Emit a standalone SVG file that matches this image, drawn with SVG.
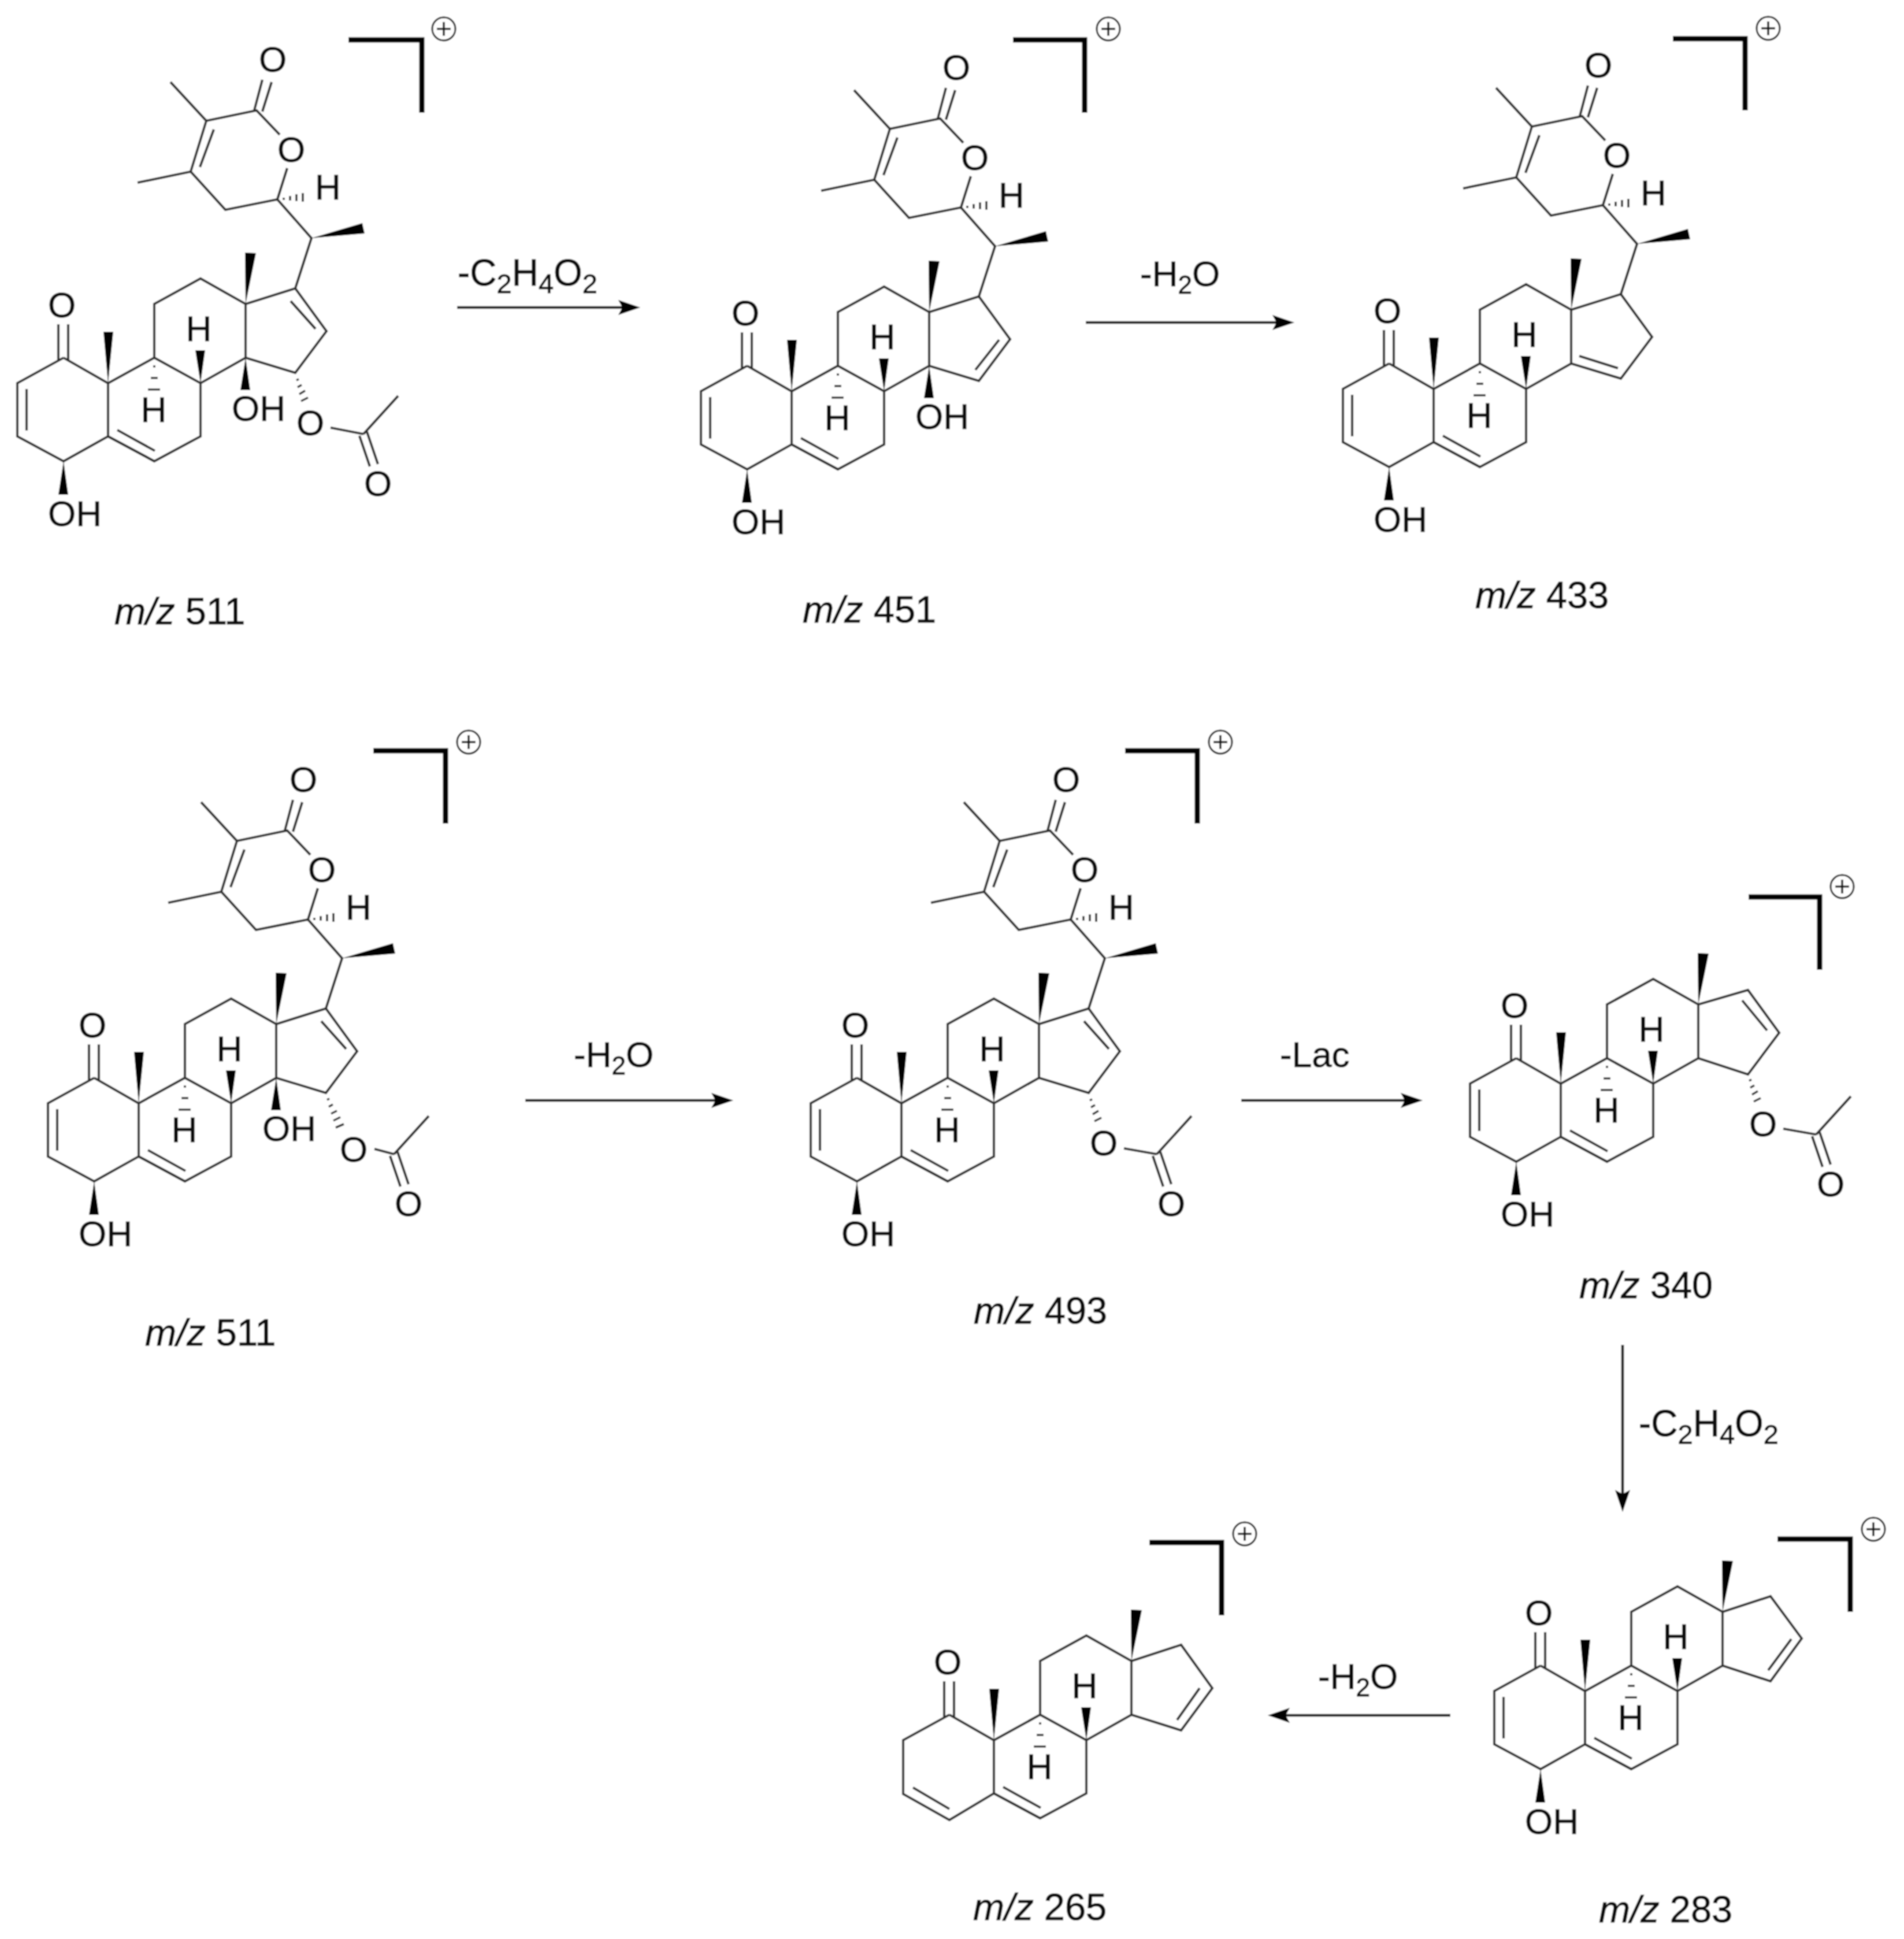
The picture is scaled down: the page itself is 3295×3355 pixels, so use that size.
<svg xmlns="http://www.w3.org/2000/svg" xmlns:xlink="http://www.w3.org/1999/xlink" width="3295" height="3355" viewBox="0 0 3295 3355">
<style>
.t{font-family:"Liberation Sans",Arial,sans-serif;font-size:62px;fill:#111;stroke:#111;stroke-width:.9}
.l{font-size:65px}
.i{font-style:italic}
.b{fill:none;stroke:#2e2e2e;stroke-width:4.2;stroke-linejoin:miter;stroke-linecap:butt}
.w{fill:#000;stroke:none}
.h{fill:none;stroke:#222;stroke-width:3.6}
.br{fill:none;stroke:#000;stroke-width:9}
.a{fill:none;stroke:#111;stroke-width:4.6}
</style>
<defs>
<filter id="soft" x="0" y="0" width="100%" height="100%" filterUnits="userSpaceOnUse"><feGaussianBlur stdDeviation="0.8"/></filter>
<marker id="ah" viewBox="0 0 38 26" refX="30" refY="13" markerWidth="38" markerHeight="26" markerUnits="userSpaceOnUse" orient="auto"><path d="M0 0L38 13L0 26L7 13Z" fill="#000"/></marker>
<g id="plus"><circle r="20" fill="none" stroke="#111" stroke-width="3"/><path d="M-12 0H12M0 -12V12" stroke="#111" stroke-width="3.6" fill="none"/></g>
<g id="core">
<path class="b" d="M110 619L187 663L267 619L347 663L347 755L267 798L187 755L187 663M267 619V526L347 482L425 526V619L347 663"/>
<path class="b" d="M203 744L268 780M187 755L267 798M101 561V624M118 561V624"/>
<path class="w" d="M187 663L179 574H196Z"/>
<path class="w" d="M425 526L424 437L443 438Z"/>
<path class="w" d="M347 663L338 606H355Z"/>
<path class="h" d="M265 634H269M261 654H273M256 674H277"/>
</g>
<g id="aring">
<path class="b" d="M110 619L30 663V755L110 798L187 755M46 673V745"/>
<path class="w" d="M110 798L101 856H118Z"/>
</g>
<path id="oh14w" class="w" d="M425 619L416 675H433Z"/>
<g id="lac">
<path class="b" d="M511 499L539 412L480 345L390 363L330 297L357 209L444 191L484 233M497 291L480 345M346 289L370 224M357 209L295 142M330 297L238 316M440 191L454 138M454 193L470 142"/>
<path class="w" d="M539 412L627 386L631 404Z"/>
<path class="h" d="M491 342V346M502 339V347M513 336V348M524 334V349"/>
</g>
<g id="ac">
<path class="b" d="M629 751L689 685M622 754L640 807M635 747L654 803"/>
</g>
<path id="dsh" class="h" d="M513 658L517 656M515 670L522 666M518 682L528 676M521 694L533 688"/>
</defs>
<g filter="url(#soft)">
<rect width="3295" height="3355" fill="#fff"/>

<g id="connectors">
<path class="a" d="M791 532H1100" marker-end="url(#ah)"/>
<path class="a" d="M1879 558H2232" marker-end="url(#ah)"/>
<path class="a" d="M909 1904H1261" marker-end="url(#ah)"/>
<path class="a" d="M2148 1904H2454" marker-end="url(#ah)"/>
<path class="a" d="M2808 2327V2608" marker-end="url(#ah)"/>
<path class="a" d="M2510 2968H2202" marker-end="url(#ah)"/>
</g>
<g id="arrow-labels">
<text class="t" x="792" y="494" style="font-size:64px">-C<tspan font-size="47" dy="13">2</tspan><tspan dy="-13">H</tspan><tspan font-size="47" dy="13">4</tspan><tspan dy="-13">O</tspan><tspan font-size="47" dy="13">2</tspan></text>
<text class="t" x="1973" y="495">-H<tspan font-size="44" dy="13">2</tspan><tspan dy="-13">O</tspan></text>
<text class="t" x="993" y="1846">-H<tspan font-size="44" dy="13">2</tspan><tspan dy="-13">O</tspan></text>
<text class="t" x="2215" y="1846">-Lac</text>
<text class="t" x="2836" y="2485" style="font-size:64px">-C<tspan font-size="47" dy="13">2</tspan><tspan dy="-13">H</tspan><tspan font-size="47" dy="13">4</tspan><tspan dy="-13">O</tspan><tspan font-size="47" dy="13">2</tspan></text>
<text class="t" x="2281" y="2922">-H<tspan font-size="44" dy="13">2</tspan><tspan dy="-13">O</tspan></text>
</g>

<g id="mol-511a">
<g>
<use href="#core"/><use href="#aring"/><use href="#oh14w"/><use href="#lac"/><use href="#ac"/><use href="#dsh"/>
<path class="b" d="M425 526L511 499L565 573L511 645L425 619M503 521L546 569M572 740L629 751"/>
<text class="t" x="107" y="549" text-anchor="middle">O</text>
<text class="t" x="83" y="910">OH</text>
<text class="t" x="344" y="590" text-anchor="middle">H</text>
<text class="t" x="266" y="730" text-anchor="middle">H</text>
<text class="t" x="401" y="728">OH</text>
<text class="t" x="472" y="124" text-anchor="middle">O</text>
<text class="t" x="504" y="280" text-anchor="middle">O</text>
<text class="t" x="545" y="345">H</text>
<text class="t" x="537" y="753" text-anchor="middle">O</text>
<text class="t" x="654" y="858" text-anchor="middle">O</text>
</g>
<path class="br" d="M603 69H730V195"/><use href="#plus" x="768" y="50"/>
<text class="t l" x="198" y="1080"><tspan class="i">m/z</tspan> 511</text>
</g>

<g id="mol-451">
<g transform="translate(1183 14)">
<use href="#core"/><use href="#aring"/><use href="#oh14w"/><use href="#lac"/>
<path class="b" d="M425 526L511 499L565 573L511 645L425 619M505 626L546 574"/>
<text class="t" x="107" y="549" text-anchor="middle">O</text>
<text class="t" x="83" y="910">OH</text>
<text class="t" x="344" y="590" text-anchor="middle">H</text>
<text class="t" x="266" y="730" text-anchor="middle">H</text>
<text class="t" x="401" y="728">OH</text>
<text class="t" x="472" y="124" text-anchor="middle">O</text>
<text class="t" x="504" y="280" text-anchor="middle">O</text>
<text class="t" x="545" y="345">H</text>
</g>
<path class="br" d="M1753 69H1877V195"/><use href="#plus" x="1918" y="50"/>
<text class="t l" x="1389" y="1077"><tspan class="i">m/z</tspan> 451</text>
</g>

<g id="mol-433">
<g transform="translate(2294 10)">
<use href="#core"/><use href="#aring"/><use href="#lac"/>
<path class="b" d="M425 526L511 499L565 573L511 645L425 619M439 606L506 627"/>
<text class="t" x="107" y="549" text-anchor="middle">O</text>
<text class="t" x="83" y="910">OH</text>
<text class="t" x="344" y="590" text-anchor="middle">H</text>
<text class="t" x="266" y="730" text-anchor="middle">H</text>
<text class="t" x="472" y="124" text-anchor="middle">O</text>
<text class="t" x="504" y="280" text-anchor="middle">O</text>
<text class="t" x="545" y="345">H</text>
</g>
<path class="br" d="M2895 67H3020V191"/><use href="#plus" x="3060" y="49"/>
<text class="t l" x="2553" y="1052"><tspan class="i">m/z</tspan> 433</text>
</g>

<g id="mol-511b">
<g transform="translate(53 1246)">
<use href="#core"/><use href="#aring"/><use href="#oh14w"/><use href="#lac"/><use href="#ac"/>
<path class="h" d="M513 657L517 655M516 669L523 665M520 681L530 676M524 693L536 687M528 705L542 699"/>
<path class="b" d="M425 526L511 499L565 573L511 645L425 619M503 521L546 569M595 742L629 751"/>
<text class="t" x="107" y="549" text-anchor="middle">O</text>
<text class="t" x="83" y="910">OH</text>
<text class="t" x="344" y="590" text-anchor="middle">H</text>
<text class="t" x="266" y="730" text-anchor="middle">H</text>
<text class="t" x="401" y="728">OH</text>
<text class="t" x="472" y="124" text-anchor="middle">O</text>
<text class="t" x="504" y="280" text-anchor="middle">O</text>
<text class="t" x="545" y="345">H</text>
<text class="t" x="559" y="764" text-anchor="middle">O</text>
<text class="t" x="654" y="858" text-anchor="middle">O</text>
</g>
<path class="br" d="M646 1299H771V1425"/><use href="#plus" x="811" y="1284"/>
<text class="t l" x="251" y="2328"><tspan class="i">m/z</tspan> 511</text>
</g>

<g id="mol-493">
<g transform="translate(1373 1246)">
<use href="#core"/><use href="#aring"/><use href="#lac"/><use href="#ac"/><use href="#dsh"/>
<path class="b" d="M425 526L511 499L565 573L511 645L425 619M503 521L546 569M572 741L629 751"/>
<text class="t" x="107" y="549" text-anchor="middle">O</text>
<text class="t" x="83" y="910">OH</text>
<text class="t" x="344" y="590" text-anchor="middle">H</text>
<text class="t" x="266" y="730" text-anchor="middle">H</text>
<text class="t" x="472" y="124" text-anchor="middle">O</text>
<text class="t" x="504" y="280" text-anchor="middle">O</text>
<text class="t" x="545" y="345">H</text>
<text class="t" x="537" y="753" text-anchor="middle">O</text>
<text class="t" x="654" y="858" text-anchor="middle">O</text>
</g>
<path class="br" d="M1947 1299H2072V1425"/><use href="#plus" x="2112" y="1284"/>
<text class="t l" x="1685" y="2290"><tspan class="i">m/z</tspan> 493</text>
</g>

<g id="mol-340">
<g transform="translate(2514 1212)">
<use href="#core"/><use href="#aring"/><use href="#ac"/><use href="#dsh"/>
<path class="b" d="M425 526L511 501L565 575L511 647L425 619M501 519L544 571M572 741L629 751"/>
<text class="t" x="107" y="549" text-anchor="middle">O</text>
<text class="t" x="83" y="910">OH</text>
<text class="t" x="344" y="590" text-anchor="middle">H</text>
<text class="t" x="266" y="730" text-anchor="middle">H</text>
<text class="t" x="537" y="754" text-anchor="middle">O</text>
<text class="t" x="654" y="858" text-anchor="middle">O</text>
</g>
<path class="br" d="M3026 1552H3149V1678"/><use href="#plus" x="3188" y="1534"/>
<text class="t l" x="2733" y="2246"><tspan class="i">m/z</tspan> 340</text>
</g>

<g id="mol-283">
<g transform="translate(2556 2263)">
<use href="#core"/><use href="#aring"/>
<path class="b" d="M425 526L508 499L562 572L508 646L425 619M504 627L544 573"/>
<text class="t" x="107" y="549" text-anchor="middle">O</text>
<text class="t" x="83" y="910">OH</text>
<text class="t" x="344" y="590" text-anchor="middle">H</text>
<text class="t" x="266" y="730" text-anchor="middle">H</text>
</g>
<path class="br" d="M3076 2663H3202V2789"/><use href="#plus" x="3242" y="2646"/>
<text class="t l" x="2767" y="3326"><tspan class="i">m/z</tspan> 283</text>
</g>

<g id="mol-265">
<g transform="translate(1533 2348)">
<use href="#core"/>
<path class="b" d="M110 619L30 663V756L110 801L187 755M47 745L110 782"/>
<path class="b" d="M425 526L511 498L565 573L511 646L425 619M504 628L543 573"/>
<text class="t" x="107" y="549" text-anchor="middle">O</text>
<text class="t" x="344" y="590" text-anchor="middle">H</text>
<text class="t" x="266" y="730" text-anchor="middle">H</text>
</g>
<path class="br" d="M1989 2669H2114V2795"/><use href="#plus" x="2154" y="2654"/>
<text class="t l" x="1684" y="3322"><tspan class="i">m/z</tspan> 265</text>
</g>
</g>
</svg>
